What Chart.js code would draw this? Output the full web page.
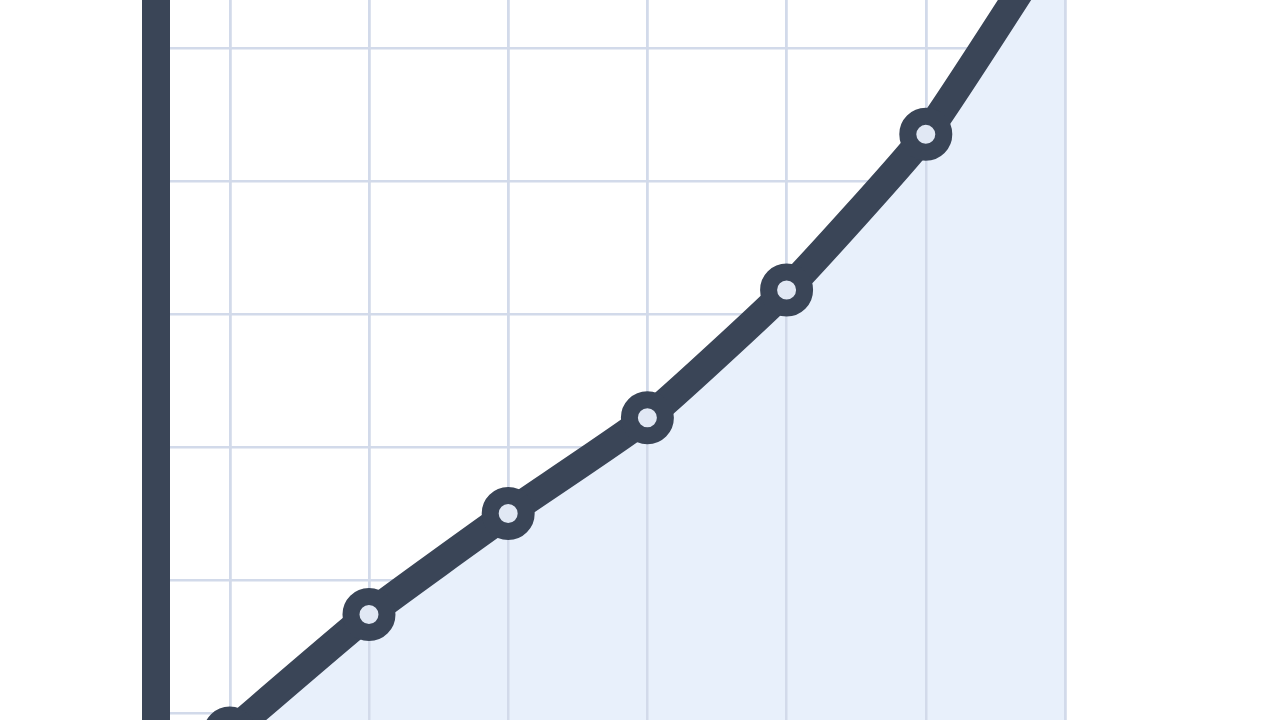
<!DOCTYPE html>
<html>
<head>
<meta charset="utf-8">
<script src="https://cdn.jsdelivr.net/npm/chart.js@4.4.1/dist/chart.umd.min.js"></script>
<style>
  html, body { margin: 0; padding: 0; background: #ffffff; }
  #caixa { width: 1280px; height: 720px; position: relative; }
</style>
</head>
<body>
<div id="caixa"><canvas id="graficoCrescimento"></canvas></div>
<script>
// dados (uma unidade de grade = 10)
var periodos = [0, 1, 2, 3, 4, 5, 6];
var valores = [-1.5, 7.4, 15.0, 22.2, 31.8, 43.5, 59.5];
var marcasY = [0, 10, 20, 30, 40, 50];

var Painel = Painel || {};

Painel.GraficoCrescimento = (function(){

    function GraficoCrescimento(){
        this.ctx = document.getElementById('graficoCrescimento').getContext('2d');
    }

    // linhas verticais da grade ficam por cima do preenchimento, mas abaixo da linha
    var gradeSobreArea = {
        id: 'gradeSobreArea',
        beforeDatasetsDraw: function(chart){
            chart.scales.x.drawGrid(chart.chartArea);
        }
    };

    GraficoCrescimento.prototype.iniciar = function(){
        var escuro = '#3a4557';
        new Chart(this.ctx, {
            type: 'line',
            data: {
                datasets: [{
                    label: 'Crescimento',
                    data: periodos.map(function(p, i){ return {x: p, y: valores[i]}; }),
                    borderColor: escuro,
                    borderWidth: 28,
                    borderJoinStyle: 'round',
                    borderCapStyle: 'round',
                    tension: 0.15,
                    fill: 'start',
                    backgroundColor: '#e8f0fb',
                    pointRadius: 18,
                    pointBorderWidth: 17,
                    pointBorderColor: escuro,
                    pointBackgroundColor: '#e1e8f4',
                    pointHoverRadius: 18
                }]
            },
            options: {
                responsive: true,
                maintainAspectRatio: false,
                animation: false,
                layout: { autoPadding: false, padding: { left: 156, right: 215, top: 0, bottom: 0 } },
                plugins: {
                    legend: { display: false },
                    tooltip: { enabled: false },
                    filler: { drawTime: 'beforeDatasetsDraw' }
                },
                scales: {
                    x: {
                        type: 'linear',
                        min: -0.53,
                        max: 6,
                        afterBuildTicks: function(axis){
                            axis.ticks = periodos.map(function(v){ return {value: v}; });
                        },
                        grid: { color: '#d2daea', lineWidth: 2.5, drawTicks: false },
                        border: { display: false },
                        ticks: { display: false }
                    },
                    y: {
                        min: -0.53,
                        max: 53.6,
                        afterBuildTicks: function(axis){
                            axis.ticks = marcasY.map(function(v){ return {value: v}; });
                        },
                        grid: { color: '#d2daea', lineWidth: 2.5, drawTicks: false },
                        border: { display: true, color: escuro, width: 28 },
                        ticks: { display: false }
                    }
                }
            },
            plugins: [gradeSobreArea]
        });
    };

    return GraficoCrescimento;

}());

window.addEventListener('load', function(){
    var grafico = new Painel.GraficoCrescimento();
    grafico.iniciar();
});
</script>
</body>
</html>
